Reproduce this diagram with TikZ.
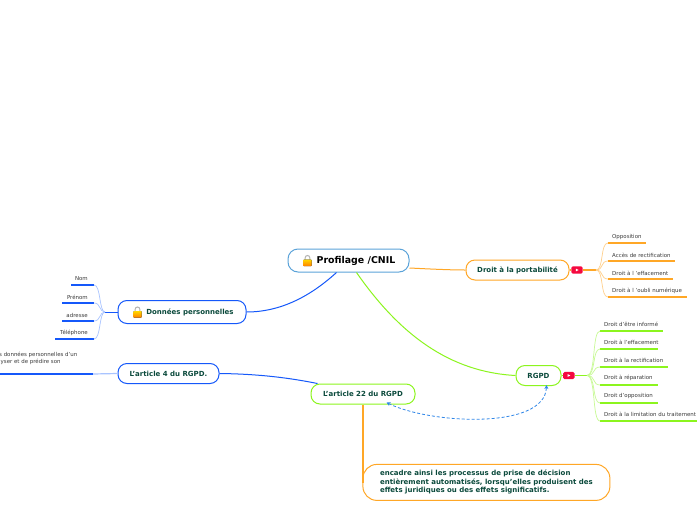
\documentclass[tikz,border=0pt]{standalone}
\usepackage{fontspec}
\setmainfont{DejaVu Sans}
\usetikzlibrary{arrows.meta}
\definecolor{cblue}{HTML}{1558FA}
\definecolor{clight}{HTML}{A9C4FF}
\definecolor{cgreen}{HTML}{8CF51E}
\definecolor{cgreenl}{HTML}{C8FA96}
\definecolor{corange}{HTML}{FFA726}
\definecolor{corangel}{HTML}{FFD08C}
\definecolor{croot}{HTML}{5BA3D9}
\definecolor{cdash}{HTML}{2F86E8}
\definecolor{ctext}{HTML}{0B4A3C}
\definecolor{cleaf}{HTML}{3A3A3A}
\definecolor{cred}{HTML}{F5093F}
\tikzset{
  x=1pt,y=-1pt,
  topic/.style={draw,line width=1pt,fill=white,rounded corners=9pt,inner sep=0pt,text=ctext,font=\bfseries\fontsize{7}{8.5}\selectfont,anchor=center},
  leaf/.style={inner sep=0pt,text=cleaf,font=\fontsize{5.45}{6.6}\selectfont},
  branch/.style={line width=1pt},
  twig/.style={line width=.7pt},
  under/.style={line width=1.3pt},
  lockicon/.pic={
    \draw[gray!60,line width=1pt] (-2.4,0) -- (-2.4,-1.5) .. controls (-2.4,-4.8) and (2.4,-4.8) .. (2.4,-1.5) -- (2.4,0);
    \fill[top color=yellow!70!orange,bottom color=orange,rounded corners=.5pt] (-4,0) rectangle (4,6.5);
  },
  playicon/.pic={
    \fill[cred,rounded corners=1.5pt] (-5.7,-3.6) rectangle (5.7,3.6);
    \fill[white] (-1.2,-1.4) -- (1.6,0) -- (-1.2,1.4) -- cycle;
  }
}
\begin{document}
\begin{tikzpicture}
\useasboundingbox[fill=white] (0,0) rectangle (697,520);
\clip (0,0) rectangle (697,520);
% main nodes
\node[topic,draw=croot,text=black,minimum width=121pt,minimum height=23pt,rounded corners=10pt,font=\bfseries\fontsize{9.4}{11}\selectfont] (root) at (348.5,260.5) {\hspace*{15pt}Profilage /CNIL};
\node[topic,draw=corange,minimum width=103pt,minimum height=20pt] (port) at (517.5,270) {Droit à la portabilité};
\node[topic,draw=cgreen,minimum width=45pt,minimum height=20pt] (rgpd) at (538.5,375.5) {RGPD};
\node[topic,draw=cblue,minimum width=128pt,minimum height=23pt] (data) at (182,312) {\hspace*{16pt}Données personnelles};
\node[topic,draw=cblue,minimum width=101pt,minimum height=20pt] (a4) at (168.5,373.5) {L'article 4 du RGPD.};
\node[topic,draw=cgreen,minimum width=104pt,minimum height=20pt] (a22) at (363,394) {L'article 22 du RGPD};
\node[topic,draw=corange,minimum width=247pt,minimum height=36pt,rounded corners=14pt,align=left] (enc) at (486.4,482.4) {encadre ainsi les processus de prise de décision\\entièrement automatisés, lorsqu'elles produisent des\\effets juridiques ou des effets significatifs.};
% icons
\pic at (307.5,259.5) {lockicon};
\pic at (137.5,311) {lockicon};
\node[inner sep=0pt,minimum width=12pt,minimum height=7pt] (pport) at (577,270) {};
\pic at (577,270) {playicon};
\node[inner sep=0pt,minimum width=12pt,minimum height=7pt] (prgpd) at (568.8,375.5) {};
\pic at (568.8,375.5) {playicon};
% main connectors
\draw[cblue,branch] (data.east) .. controls (285,312) and (315,292) .. ([xshift=49pt]root.south west);
\draw[corange,branch] ([yshift=-7.5pt]root.east) .. controls (430,269) and (450,270) .. (port.west);
\draw[cgreen,branch] ([xshift=69pt]root.south west) .. controls (400,335) and (450,372) .. (rgpd.west);
\draw[cblue,branch] (a4.east) .. controls (260,374) and (290,378) .. ([xshift=7pt]a22.north west);
\draw[corange,line width=2pt] (a22.south) -- ([yshift=-1pt]a22.south |- enc.west);
\draw[cdash,line width=.8pt,densely dashed,{Stealth[length=4pt,width=4pt]}-{Stealth[length=4pt,width=4pt]}] ([xshift=76pt,yshift=2pt]a22.south west) .. controls (430,424) and (545,430) .. ([xshift=31pt,yshift=1pt]rgpd.south west);
% Portability leaves
\draw[corange,line width=1.2pt] (port.east) -- (pport.west);
\coordinate (pf) at (596,270);
\draw[corange,line width=1.2pt] (pport.east) -- (pf);
\foreach \n/\y/\e/\t in {p1/243/646/Opposition,p2/261/675/Accès de rectification,p3/279/673/Droit à l 'effacement,p4/297/687/Droit à l 'oubli numérique}{
  \node[leaf,anchor=west] (\n) at (612,\y-6) {\t};
  \coordinate (\n s) at (608,\y);
  \coordinate (\n e) at (\e,\y);
  \draw[corange,under] (\n s) -- (\n e);
  \draw[corangel,twig] (pf) .. controls (604,270) and (600,\y) .. (\n s);
}
% RGPD leaves
\draw[cgreen,line width=1.2pt] (rgpd.east) -- (prgpd.west);
\coordinate (gf) at (587,375.5);
\draw[cgreen,line width=1.2pt] (prgpd.east) -- (gf);
\foreach \n/\y/\e/\t in {g1/331/663/Droit d'être informé,g2/349/658/Droit à l'effacement,g3/367/668/Droit à la rectification,g4/385/658/Droit à réparation,g5/403/658/Droit d'opposition,g6/421/697/Droit à la limitation du traitement}{
  \node[leaf,anchor=west] (\n) at (604,\y-7) {\t};
  \coordinate (\n s) at (600,\y);
  \coordinate (\n e) at (\e,\y);
  \draw[cgreen,under] (\n s) -- (\n e);
  \draw[cgreenl,twig] (gf) .. controls (596,375.5) and (592,\y) .. (\n s);
}
% Data leaves
\coordinate (df) at (105,312);
\draw[cblue,line width=1pt] (data.west) -- (df);
\foreach \n/\y/\s/\t in {d1/285/71/Nom,d2/303/62/Prénom,d3/321/62/adresse,d4/339/55/Téléphone}{
  \node[leaf,anchor=east] (\n) at (88,\y-6) {\t};
  \coordinate (\n s) at (94,\y);
  \coordinate (\n e) at (\s,\y);
  \draw[cblue,under] (\n s) -- (\n e);
  \draw[clight,twig] (df) .. controls (99,312) and (101,\y) .. (\n s);
}
% Article 4 leaf
\node[leaf,anchor=west,align=left] (a4t) at (-1,358.5) {s données personnelles d'un\\lyser et de prédire son};
\coordinate (a4m) at (93,374);
\coordinate (a4l) at (0,374);
\draw[clight,line width=1.2pt] (a4.west) -- (a4m);
\draw[cblue,under] (a4m) -- (a4l);
\end{tikzpicture}
\end{document}
